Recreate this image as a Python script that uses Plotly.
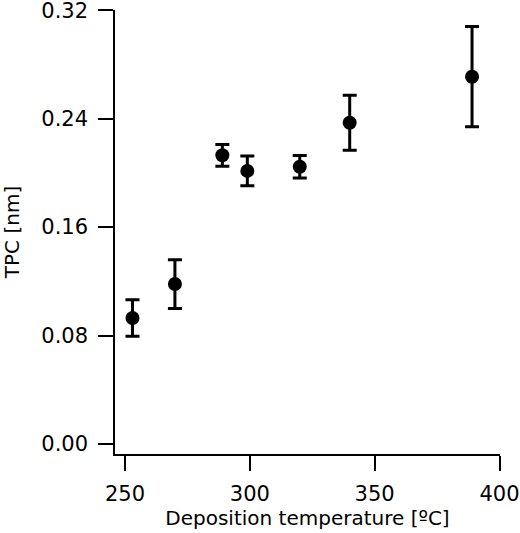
import plotly.graph_objects as go

temperature = [253, 270, 289, 299, 320, 340, 389]
tpc = [0.093, 0.118, 0.213, 0.2015, 0.2045, 0.237, 0.271]
tpc_err = [0.0135, 0.018, 0.008, 0.011, 0.0083, 0.0203, 0.037]

x_ticks = [250, 300, 350, 400]
y_ticks = [0.00, 0.08, 0.16, 0.24, 0.32]
y_tick_labels = ["0.00", "0.08", "0.16", "0.24", "0.32"]

fig = go.Figure()
fig.add_trace(go.Scatter(
    x=temperature, y=tpc, mode="markers",
    marker=dict(size=14, color="black"),
    error_y=dict(type="data", array=tpc_err, visible=True,
                 color="black", thickness=3, width=7),
    showlegend=False,
))

axis_font = dict(family="DejaVu Sans", size=21, color="black")
title_font = dict(family="DejaVu Sans", size=20, color="black")
fig.update_layout(
    width=520, height=533,
    margin=dict(l=115, r=20, t=10, b=79),
    paper_bgcolor="white", plot_bgcolor="white",
    font=dict(family="DejaVu Sans", color="black"),
    xaxis=dict(
        range=[246, 400.2], tickvals=x_ticks, ticks="outside", ticklen=15,
        tickwidth=1.5, tickcolor="black", showline=True, linecolor="black",
        linewidth=1.5, showgrid=False, zeroline=False, tickfont=axis_font,
        ticklabelstandoff=5, ticklabeloverflow="allow", automargin=False,
        title=dict(text="Deposition temperature [ºC]", font=title_font,
                   standoff=0),
    ),
    yaxis=dict(
        range=[-0.0074, 0.3202], tickvals=y_ticks, ticktext=y_tick_labels,
        ticks="outside", ticklen=15, tickwidth=1.5, tickcolor="black",
        showline=True, linecolor="black", linewidth=1.5, showgrid=False,
        zeroline=False, tickfont=axis_font, ticklabelstandoff=6,
        ticklabeloverflow="allow", automargin=False,
        title=dict(text="TPC [nm]", font=title_font, standoff=25),
    ),
)

fig.write_html("out.html", config={"displayModeBar": False},
               post_script="document.body.style.margin='0px';")
